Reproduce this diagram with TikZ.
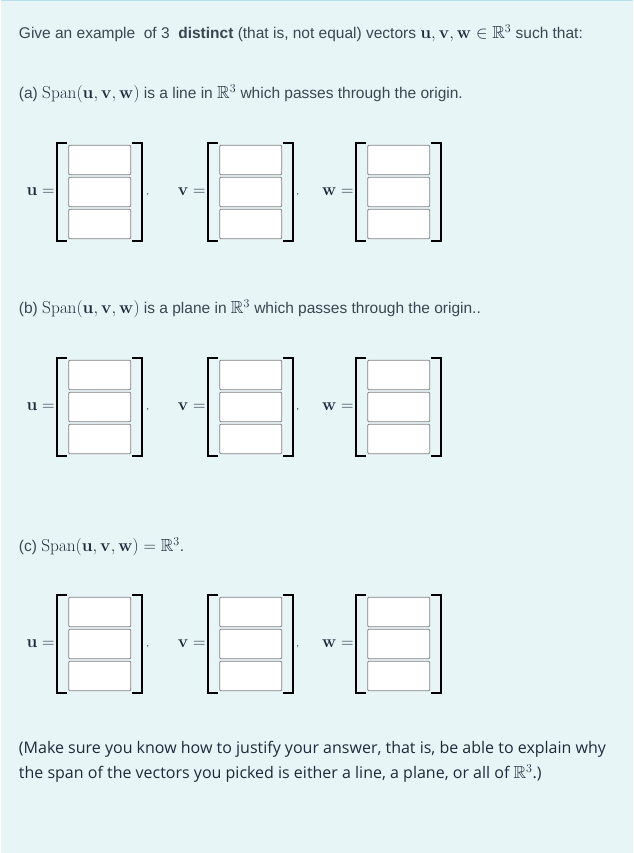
\documentclass[tikz,border=0pt]{standalone}
\usepackage{amsmath,amssymb}
\usepackage[no-math]{fontspec}
\setmainfont{Liberation Sans}
\newfontfamily\osans{Open Sans}
\definecolor{bg}{HTML}{E8F5F7}
\definecolor{txt}{HTML}{3A4650}
\definecolor{mth}{HTML}{1E2A3A}
\definecolor{topline}{HTML}{B8E0EC}
\newcommand{\M}[1]{\textcolor{mth}{\fontsize{17.5}{18}\selectfont$#1$}}
\tikzset{
  cell/.style={draw=black!50,fill=white,rounded corners=1pt,minimum width=62pt,minimum height=29.5pt,inner sep=0pt,line width=0.8pt},
  brk/.style={line width=2.2pt,black},
  lbl/.style={anchor=east,inner sep=0pt,text=mth,font=\fontsize{18}{18}\selectfont},
  ttext/.style={anchor=west,inner sep=0pt,text=txt,font=\fontsize{15.5}{17}\selectfont},
}
\newcommand{\onevec}[4]{% prefix, label, xleft of boxes, ycenter
  \node[cell] (#1a) at (#3+31,#4-32) {};
  \node[cell] (#1b) at (#3+31,#4) {};
  \node[cell] (#1c) at (#3+31,#4+32) {};
  \draw[brk] ([xshift=-1pt,yshift=2pt]#1a.north west) -- ++(-10,0) |- ([xshift=-1pt,yshift=-2pt]#1c.south west);
  \draw[brk] ([xshift=1pt,yshift=2pt]#1a.north east) -- ++(10,0) |- ([xshift=1pt,yshift=-2pt]#1c.south east);
  \node[lbl] (#1l) at (#3-14,#4) {$#2=$};
}
\newcommand{\vecgroup}[2]{% prefix, ycenter
  \onevec{#1u}{\mathbf{u}}{68}{#2}
  \node[inner sep=0pt,text=mth,font=\small] (#1c1) at (147,#2+3) {,};
  \onevec{#1v}{\mathbf{v}}{219}{#2}
  \node[inner sep=0pt,text=mth,font=\small] (#1c2) at (297,#2+3) {,};
  \onevec{#1w}{\mathbf{w}}{367}{#2}
}
\begin{document}
\begin{tikzpicture}[x=1pt,y=-1pt]
\fill[bg] (0,0) rectangle (632,853);
\draw[topline,line width=1.5pt] (0,0.75) -- (632,0.75);
\useasboundingbox (0,0) rectangle (632,853);
\node[ttext] (t0) at (18,33) {Give an example \ of 3 \ \textbf{distinct} (that is, not equal) vectors \M{\mathbf{u},\mathbf{v},\mathbf{w}\in\mathbb{R}^3} such that:};
\node[ttext] (ta) at (18,94) {(a) \M{\mathrm{Span}(\mathbf{u},\mathbf{v},\mathbf{w})} is a line in \M{\mathbb{R}^3} which passes through the origin.};
\vecgroup{a}{192}
\node[ttext] (tb) at (18,309) {(b) \M{\mathrm{Span}(\mathbf{u},\mathbf{v},\mathbf{w})} is a plane in \M{\mathbb{R}^3} which passes through the origin..};
\vecgroup{b}{407}
\node[ttext] (tc) at (18,547) {(c) \M{\mathrm{Span}(\mathbf{u},\mathbf{v},\mathbf{w})=\mathbb{R}^3}.};
\vecgroup{c}{644}
\node[anchor=north west,inner sep=0pt,text=mth,align=left,font=\osans\fontsize{16}{25}\selectfont] (tn) at (18,741) {(Make sure you know how to justify your answer, that is, be able to explain why\\the span of the vectors you picked is either a line, a plane, or all of \M{\mathbb{R}^3}.)};
\end{tikzpicture}
\end{document}
